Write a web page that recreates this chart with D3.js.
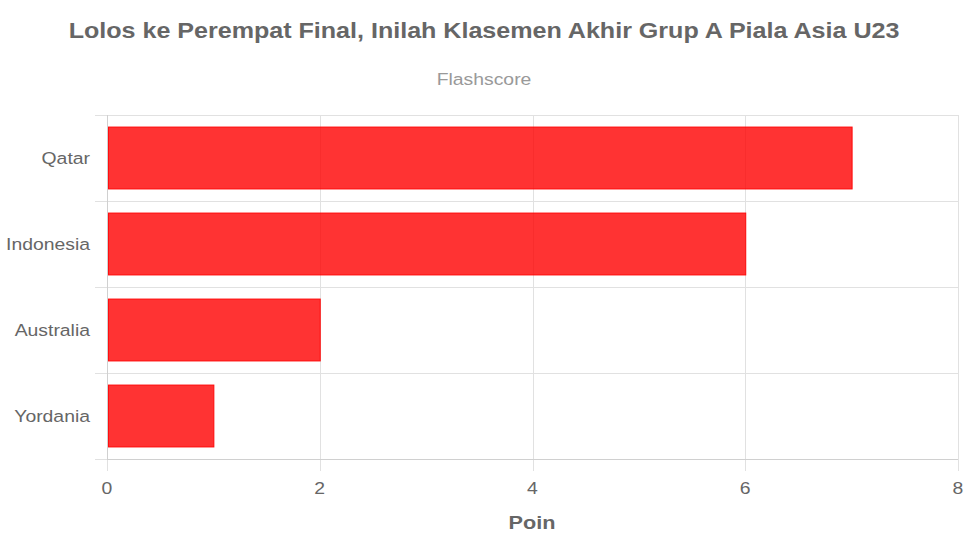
<!DOCTYPE html>
<html><head><meta charset="utf-8">
<script src="https://cdn.jsdelivr.net/npm/d3@7/dist/d3.min.js"></script>
<style>
html,body{margin:0;padding:0;background:#fff;}
svg{display:block;font-family:"Liberation Sans",Arial,sans-serif;}
</style></head>
<body><svg id="c" width="968" height="543"></svg>
<script>
const categories = ["Qatar","Indonesia","Australia","Yordania"];
const values = [7,6,2,1];
const xTicks = [0,2,4,6,8];
const titleText = "Lolos ke Perempat Final, Inilah Klasemen Akhir Grup A Piala Asia U23";
const subtitleText = "Flashscore";
const xTitle = "Poin";

const SX = 1.14; // horizontal text stretch seen in the reference
const svg = d3.select("#c");
const m = {left:107, right:958, top:115, bottom:459};
const x = d3.scaleLinear().domain([0,8]).range([m.left, m.right]);
const y = d3.scaleBand().domain(categories).range([m.top, m.bottom]).paddingInner(0).paddingOuter(0);

// horizontal grid (category boundaries)
const gridC = "#e1e1e1";
const bounds = categories.map((c)=>y(c)).concat([m.bottom]);
svg.append("g").selectAll("line").data(bounds).join("line")
  .attr("x1", m.left-12).attr("x2", m.right)
  .attr("y1", d=>d+0.5).attr("y2", d=>d+0.5)
  .attr("stroke", gridC).attr("stroke-width",1);
// vertical grid
svg.append("g").selectAll("line").data(xTicks).join("line")
  .attr("x1", d=>Math.round(x(d))+0.5).attr("x2", d=>Math.round(x(d))+0.5)
  .attr("y1", m.top).attr("y2", m.bottom+12)
  .attr("stroke", gridC).attr("stroke-width",1);
// axis lines
svg.append("line").attr("x1",m.left).attr("x2",m.right).attr("y1",m.bottom+0.5).attr("y2",m.bottom+0.5).attr("stroke","#d0d0d0");
svg.append("line").attr("x1",m.left+0.5).attr("x2",m.left+0.5).attr("y1",m.top).attr("y2",m.bottom).attr("stroke","#d0d0d0");

// bars
const bh = y.bandwidth()*0.72;
svg.append("g").selectAll("rect").data(values).join("rect")
  .attr("x", x(0)+1.5)
  .attr("y", (d,i)=>y(categories[i]) + (y.bandwidth()-bh)/2)
  .attr("width", d=>x(d)-x(0)-1)
  .attr("height", bh)
  .attr("fill","rgba(255,0,0,0.8)")
  .attr("stroke","rgba(255,0,0,0.9)").attr("stroke-width",1);

function stretchedText(g, tx, ty, anchor, size, weight, fill, txt){
  return g.append("text")
    .attr("transform", `translate(${tx},${ty}) scale(${SX},1)`)
    .attr("text-anchor", anchor).attr("dominant-baseline","central")
    .attr("font-size", size).attr("font-weight", weight).attr("fill", fill).text(txt);
}
// y labels
const gy = svg.append("g");
categories.forEach(c => stretchedText(gy, m.left-17, y(c)+y.bandwidth()/2, "end", 17, "normal", "#666", c));
// x labels
const gx = svg.append("g");
xTicks.forEach(t => stretchedText(gx, x(t), 488, "middle", 17, "normal", "#666", String(t)));

stretchedText(svg, 484, 31, "middle", 22, "bold", "#666", titleText);
stretchedText(svg, 484, 79, "middle", 17, "normal", "#999", subtitleText);
stretchedText(svg, 532, 522, "middle", 19, "bold", "#666", xTitle);
</script></body></html>
